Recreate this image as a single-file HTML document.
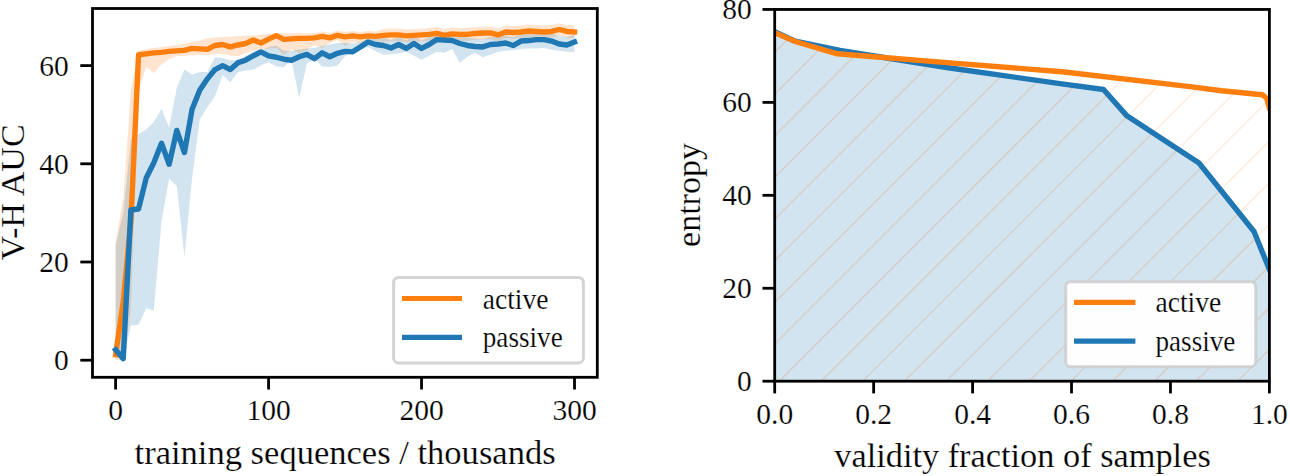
<!DOCTYPE html>
<html><head><meta charset="utf-8"><style>
html,body{margin:0;padding:0;background:#fff;}
svg{display:block;}
text{font-family:"Liberation Serif",serif;fill:#000;stroke:#fff;stroke-width:0.2px;}
</style></head><body>
<svg width="1290" height="476" viewBox="0 0 1290 476">
<defs>
<clipPath id="cl"><rect x="92.5" y="8.5" width="504.79999999999995" height="368.8"/></clipPath>
<clipPath id="cr"><rect x="774.7" y="9.45" width="494.70000000000005" height="371.75"/></clipPath>
<clipPath id="cb"><polygon points="774.7,381.2 774.70,31.80 795.20,41.20 840.00,50.50 950.00,68.00 1060.00,83.60 1103.50,89.50 1126.50,115.40 1199.00,163.00 1254.00,231.50 1269.40,269.50 1269.4,381.2"/></clipPath>
<clipPath id="co"><polygon points="774.7,381.2 774.70,32.70 795.20,41.50 837.20,53.80 950.00,62.90 1062.00,71.70 1190.00,86.60 1221.50,90.80 1262.50,94.80 1266.80,98.50 1269.40,108.00 1269.4,381.2"/></clipPath>
</defs>
<rect width="1290" height="476" fill="#fff"/>
<!-- LEFT -->
<g clip-path="url(#cl)">
<polygon points="115.60,242.36 123.25,198.17 130.90,90.15 138.55,50.87 146.19,48.91 153.84,47.92 161.49,46.94 169.14,45.96 176.79,44.98 184.44,43.50 192.08,42.03 199.73,40.56 207.38,38.59 215.03,37.61 222.68,37.12 230.33,36.63 237.98,36.14 245.62,35.65 253.27,35.16 260.92,34.67 268.57,33.69 276.22,33.19 283.87,33.19 291.52,33.19 299.16,32.70 306.81,33.44 314.46,32.95 322.11,31.48 329.76,32.95 337.41,30.49 345.06,31.97 352.70,30.98 360.35,31.97 368.00,30.98 375.65,31.48 383.30,29.02 390.95,28.53 398.59,28.53 406.24,29.51 413.89,29.02 421.54,28.53 429.19,28.04 436.84,27.06 444.49,29.02 452.13,27.55 459.78,28.04 467.43,28.04 475.08,27.06 482.73,26.57 490.38,26.57 498.02,28.53 505.67,25.58 513.32,26.07 520.97,25.58 528.62,24.60 536.27,25.09 543.92,25.58 551.56,25.09 559.21,23.13 566.86,25.09 574.51,25.58 574.51,38.35 566.86,37.86 559.21,35.89 551.56,37.86 543.92,38.35 536.27,37.86 528.62,37.37 520.97,38.35 513.32,38.84 505.67,38.35 498.02,41.30 490.38,39.33 482.73,39.33 475.08,39.82 467.43,40.80 459.78,40.80 452.13,40.31 444.49,41.79 436.84,39.82 429.19,40.80 421.54,41.30 413.89,41.79 406.24,42.28 398.59,41.30 390.95,41.30 383.30,41.79 375.65,41.05 368.00,41.05 360.35,43.50 352.70,42.03 345.06,45.96 337.41,40.07 329.76,43.01 322.11,47.92 314.46,44.98 306.81,49.89 299.16,53.32 291.52,49.40 283.87,55.29 276.22,47.92 268.57,48.41 260.92,49.40 253.27,50.87 245.62,53.32 237.98,56.27 230.33,55.78 222.68,53.82 215.03,54.31 207.38,54.80 199.73,54.80 192.08,55.29 184.44,55.78 176.79,56.27 169.14,59.22 161.49,64.13 153.84,72.96 146.19,67.07 138.55,90.15 130.90,311.10 123.25,360.20 115.60,360.20" fill="#ff7f0e" fill-opacity="0.2"/>
<polygon points="115.60,245.31 123.25,212.90 130.90,139.25 138.55,134.34 146.19,129.43 153.84,122.06 161.49,108.81 169.14,127.47 176.79,87.69 184.44,69.53 192.08,74.44 199.73,71.98 207.38,71.98 215.03,57.25 222.68,58.23 230.33,60.20 237.98,60.20 245.62,55.78 253.27,51.85 260.92,50.87 268.57,46.94 276.22,45.47 283.87,50.87 291.52,50.87 299.16,49.40 306.81,48.41 314.46,47.92 322.11,45.96 329.76,44.49 337.41,43.01 345.06,43.01 352.70,43.50 360.35,42.03 368.00,38.59 375.65,36.63 383.30,37.61 390.95,40.07 398.59,36.63 406.24,40.56 413.89,35.65 421.54,40.56 429.19,36.63 436.84,31.72 444.49,32.21 452.13,32.70 459.78,35.65 467.43,37.61 475.08,38.59 482.73,39.09 490.38,36.63 498.02,36.14 505.67,35.16 513.32,37.61 520.97,33.19 528.62,32.70 536.27,31.72 543.92,31.72 551.56,33.19 559.21,36.14 566.86,37.12 574.51,34.18 574.51,52.34 566.86,51.85 559.21,50.87 551.56,49.40 543.92,47.92 536.27,48.41 528.62,48.41 520.97,48.91 513.32,49.89 505.67,50.87 498.02,51.85 490.38,54.80 482.73,57.25 475.08,52.83 467.43,56.76 459.78,62.65 452.13,48.91 444.49,52.83 436.84,51.85 429.19,55.78 421.54,59.71 413.89,55.78 406.24,51.85 398.59,53.32 390.95,54.31 383.30,54.80 375.65,51.36 368.00,46.94 360.35,49.89 352.70,52.83 345.06,56.27 337.41,65.60 329.76,67.07 322.11,66.58 314.46,58.73 306.81,63.64 299.16,98.01 291.52,60.20 283.87,67.07 276.22,66.58 268.57,62.16 260.92,65.60 253.27,69.53 245.62,70.51 237.98,71.98 230.33,82.29 222.68,74.93 215.03,96.04 207.38,107.33 199.73,119.61 192.08,178.53 184.44,256.60 176.79,185.89 169.14,178.53 161.49,221.25 153.84,310.61 146.19,308.15 138.55,324.85 130.90,325.49 123.25,360.54 115.60,355.29" fill="#1f77b4" fill-opacity="0.2"/>
<polyline points="115.60,354.80 123.25,301.28 130.90,220.76 138.55,54.80 146.19,53.82 153.84,52.83 161.49,52.34 169.14,51.36 176.79,50.87 184.44,50.38 192.08,48.41 199.73,48.91 207.38,49.40 215.03,45.47 222.68,44.49 230.33,46.94 237.98,44.98 245.62,43.50 253.27,40.07 260.92,43.01 268.57,39.09 276.22,35.65 283.87,39.33 291.52,38.84 299.16,38.35 306.81,38.35 314.46,37.86 322.11,36.39 329.76,37.86 337.41,35.40 345.06,36.88 352.70,35.89 360.35,36.88 368.00,35.89 375.65,36.39 383.30,35.40 390.95,34.91 398.59,34.91 406.24,35.89 413.89,35.40 421.54,34.91 429.19,34.42 436.84,33.44 444.49,35.40 452.13,33.93 459.78,34.42 467.43,34.42 475.08,33.44 482.73,32.95 490.38,32.95 498.02,34.91 505.67,31.97 513.32,32.46 520.97,31.97 528.62,30.98 536.27,31.48 543.92,31.97 551.56,31.48 559.21,29.51 566.86,31.48 574.51,31.97" fill="none" stroke="#ff7f0e" stroke-width="5.4" stroke-linejoin="round" stroke-linecap="square"/>
<polyline points="115.60,349.89 123.25,358.73 130.90,209.95 138.55,208.97 146.19,178.04 153.84,162.82 161.49,143.18 169.14,164.29 176.79,130.41 184.44,152.51 192.08,109.30 199.73,90.15 207.38,78.86 215.03,69.53 222.68,65.60 230.33,69.53 237.98,62.65 245.62,60.20 253.27,55.78 260.92,51.85 268.57,55.78 276.22,57.25 283.87,59.22 291.52,60.20 299.16,56.76 306.81,54.31 314.46,58.73 322.11,52.83 329.76,56.76 337.41,53.32 345.06,51.36 352.70,51.85 360.35,46.94 368.00,42.03 375.65,44.49 383.30,45.47 390.95,47.92 398.59,44.49 406.24,48.41 413.89,43.50 421.54,48.41 429.19,44.49 436.84,39.58 444.49,40.07 452.13,40.56 459.78,43.50 467.43,45.47 475.08,46.45 482.73,46.94 490.38,44.49 498.02,44.00 505.67,43.01 513.32,45.47 520.97,41.05 528.62,40.56 536.27,39.58 543.92,39.58 551.56,41.05 559.21,44.00 566.86,44.98 574.51,42.03" fill="none" stroke="#1f77b4" stroke-width="5.4" stroke-linejoin="round" stroke-linecap="square"/>
</g>
<line x1="80.30" y1="360.20" x2="92.5" y2="360.20" stroke="#000" stroke-width="2.8"/>
<text x="68.7" y="370.10" font-size="29.5" text-anchor="end">0</text>
<line x1="80.30" y1="262.00" x2="92.5" y2="262.00" stroke="#000" stroke-width="2.8"/>
<text x="68.7" y="271.90" font-size="29.5" text-anchor="end">20</text>
<line x1="80.30" y1="163.80" x2="92.5" y2="163.80" stroke="#000" stroke-width="2.8"/>
<text x="68.7" y="173.70" font-size="29.5" text-anchor="end">40</text>
<line x1="80.30" y1="65.60" x2="92.5" y2="65.60" stroke="#000" stroke-width="2.8"/>
<text x="68.7" y="75.50" font-size="29.5" text-anchor="end">60</text>
<line x1="115.60" y1="377.3" x2="115.60" y2="389.50" stroke="#000" stroke-width="2.8"/>
<text x="115.60" y="420.0" font-size="29.5" text-anchor="middle">0</text>
<line x1="268.57" y1="377.3" x2="268.57" y2="389.50" stroke="#000" stroke-width="2.8"/>
<text x="268.57" y="420.0" font-size="29.5" text-anchor="middle">100</text>
<line x1="421.54" y1="377.3" x2="421.54" y2="389.50" stroke="#000" stroke-width="2.8"/>
<text x="421.54" y="420.0" font-size="29.5" text-anchor="middle">200</text>
<line x1="574.51" y1="377.3" x2="574.51" y2="389.50" stroke="#000" stroke-width="2.8"/>
<text x="574.51" y="420.0" font-size="29.5" text-anchor="middle">300</text>
<rect x="92.5" y="8.5" width="504.80" height="368.80" fill="none" stroke="#000" stroke-width="2.8" stroke-linejoin="miter"/>
<rect x="393.6" y="277.4" width="189.8" height="85.6" rx="5" ry="5" fill="#fff" fill-opacity="0.96" stroke="#cccccc" stroke-opacity="0.85" stroke-width="3.0"/>
<line x1="402" y1="298.5" x2="462" y2="298.5" stroke="#ff7f0e" stroke-width="5.2"/>
<line x1="402" y1="337.3" x2="462" y2="337.3" stroke="#1f77b4" stroke-width="5.2"/>
<text x="482.8" y="308.6" font-size="29.0" textLength="65.7" lengthAdjust="spacingAndGlyphs">active</text>
<text x="482.8" y="346.7" font-size="29.0" textLength="79.9" lengthAdjust="spacingAndGlyphs">passive</text>
<text x="345.1" y="463.5" font-size="33.5" text-anchor="middle" textLength="421.1" lengthAdjust="spacingAndGlyphs">training sequences / thousands</text>
<text transform="translate(23.5,192.4) rotate(-90)" x="0" y="0" font-size="33.5" text-anchor="middle" textLength="136.4" lengthAdjust="spacingAndGlyphs">V-H AUC</text>
<g clip-path="url(#cr)">
<polygon points="774.7,381.2 774.70,31.80 795.20,41.20 840.00,50.50 950.00,68.00 1060.00,83.60 1103.50,89.50 1126.50,115.40 1199.00,163.00 1254.00,231.50 1269.40,269.50 1269.4,381.2" fill="#1f77b4" fill-opacity="0.2"/>
<path d="M310.92,391.20L702.67,-0.55M352.59,391.20L744.34,-0.55M394.26,391.20L786.01,-0.55M435.93,391.20L827.68,-0.55M477.60,391.20L869.35,-0.55M519.27,391.20L911.02,-0.55M560.94,391.20L952.69,-0.55M602.61,391.20L994.36,-0.55M644.28,391.20L1036.03,-0.55M685.95,391.20L1077.70,-0.55M727.62,391.20L1119.37,-0.55M769.29,391.20L1161.04,-0.55M810.96,391.20L1202.71,-0.55M852.63,391.20L1244.38,-0.55M894.30,391.20L1286.05,-0.55M935.97,391.20L1327.72,-0.55M977.64,391.20L1369.39,-0.55M1019.31,391.20L1411.06,-0.55M1060.98,391.20L1452.73,-0.55M1102.65,391.20L1494.40,-0.55M1144.32,391.20L1536.07,-0.55M1185.99,391.20L1577.74,-0.55M1227.66,391.20L1619.41,-0.55M1269.33,391.20L1661.08,-0.55M1311.00,391.20L1702.75,-0.55" clip-path="url(#co)" stroke="#ff7f0e" stroke-opacity="0.14" stroke-width="1.3" fill="none"/>
<path d="M310.92,391.20L702.67,-0.55M352.59,391.20L744.34,-0.55M394.26,391.20L786.01,-0.55M435.93,391.20L827.68,-0.55M477.60,391.20L869.35,-0.55M519.27,391.20L911.02,-0.55M560.94,391.20L952.69,-0.55M602.61,391.20L994.36,-0.55M644.28,391.20L1036.03,-0.55M685.95,391.20L1077.70,-0.55M727.62,391.20L1119.37,-0.55M769.29,391.20L1161.04,-0.55M810.96,391.20L1202.71,-0.55M852.63,391.20L1244.38,-0.55M894.30,391.20L1286.05,-0.55M935.97,391.20L1327.72,-0.55M977.64,391.20L1369.39,-0.55M1019.31,391.20L1411.06,-0.55M1060.98,391.20L1452.73,-0.55M1102.65,391.20L1494.40,-0.55M1144.32,391.20L1536.07,-0.55M1185.99,391.20L1577.74,-0.55M1227.66,391.20L1619.41,-0.55M1269.33,391.20L1661.08,-0.55M1311.00,391.20L1702.75,-0.55" clip-path="url(#cb)" stroke="#c07040" stroke-opacity="0.08" stroke-width="1.3" fill="none"/>
<polyline points="774.70,31.80 795.20,41.20 840.00,50.50 950.00,68.00 1060.00,83.60 1103.50,89.50 1126.50,115.40 1199.00,163.00 1254.00,231.50 1269.40,269.50" fill="none" stroke="#1f77b4" stroke-width="5.4" stroke-linejoin="round" stroke-linecap="square"/>
<polyline points="774.70,32.70 795.20,41.50 837.20,53.80 950.00,62.90 1062.00,71.70 1190.00,86.60 1221.50,90.80 1262.50,94.80 1266.80,98.50 1269.40,108.00" fill="none" stroke="#ff7f0e" stroke-width="5.4" stroke-linejoin="round" stroke-linecap="square"/>
</g>
<line x1="762.50" y1="381.20" x2="774.7" y2="381.20" stroke="#000" stroke-width="2.8"/>
<text x="751.8" y="391.10" font-size="29.5" text-anchor="end">0</text>
<line x1="762.50" y1="288.26" x2="774.7" y2="288.26" stroke="#000" stroke-width="2.8"/>
<text x="751.8" y="298.16" font-size="29.5" text-anchor="end">20</text>
<line x1="762.50" y1="195.32" x2="774.7" y2="195.32" stroke="#000" stroke-width="2.8"/>
<text x="751.8" y="205.22" font-size="29.5" text-anchor="end">40</text>
<line x1="762.50" y1="102.39" x2="774.7" y2="102.39" stroke="#000" stroke-width="2.8"/>
<text x="751.8" y="112.29" font-size="29.5" text-anchor="end">60</text>
<line x1="762.50" y1="9.45" x2="774.7" y2="9.45" stroke="#000" stroke-width="2.8"/>
<text x="751.8" y="19.35" font-size="29.5" text-anchor="end">80</text>
<line x1="774.70" y1="381.2" x2="774.70" y2="393.40" stroke="#000" stroke-width="2.8"/>
<text x="774.70" y="423.8" font-size="29.5" text-anchor="middle">0.0</text>
<line x1="873.64" y1="381.2" x2="873.64" y2="393.40" stroke="#000" stroke-width="2.8"/>
<text x="873.64" y="423.8" font-size="29.5" text-anchor="middle">0.2</text>
<line x1="972.58" y1="381.2" x2="972.58" y2="393.40" stroke="#000" stroke-width="2.8"/>
<text x="972.58" y="423.8" font-size="29.5" text-anchor="middle">0.4</text>
<line x1="1071.52" y1="381.2" x2="1071.52" y2="393.40" stroke="#000" stroke-width="2.8"/>
<text x="1071.52" y="423.8" font-size="29.5" text-anchor="middle">0.6</text>
<line x1="1170.46" y1="381.2" x2="1170.46" y2="393.40" stroke="#000" stroke-width="2.8"/>
<text x="1170.46" y="423.8" font-size="29.5" text-anchor="middle">0.8</text>
<line x1="1269.40" y1="381.2" x2="1269.40" y2="393.40" stroke="#000" stroke-width="2.8"/>
<text x="1269.40" y="423.8" font-size="29.5" text-anchor="middle">1.0</text>
<rect x="774.7" y="9.45" width="494.70" height="371.75" fill="none" stroke="#000" stroke-width="2.8"/>
<rect x="1065.7" y="281.7" width="190.0" height="85.0" rx="5" ry="5" fill="#fff" fill-opacity="0.96" stroke="#cccccc" stroke-opacity="0.85" stroke-width="3.0"/>
<line x1="1074" y1="302.4" x2="1135.4" y2="302.4" stroke="#ff7f0e" stroke-width="5.2"/>
<line x1="1074" y1="341.2" x2="1135.4" y2="341.2" stroke="#1f77b4" stroke-width="5.2"/>
<text x="1155.5" y="312.4" font-size="29.0" textLength="65.7" lengthAdjust="spacingAndGlyphs">active</text>
<text x="1155.5" y="350.5" font-size="29.0" textLength="79.9" lengthAdjust="spacingAndGlyphs">passive</text>
<text x="1022.5" y="467.2" font-size="33.5" text-anchor="middle" textLength="376.5" lengthAdjust="spacingAndGlyphs">validity fraction of samples</text>
<text transform="translate(700,195) rotate(-90)" x="0" y="0" font-size="33.5" text-anchor="middle" textLength="103.8" lengthAdjust="spacingAndGlyphs">entropy</text>
</svg>
</body></html>
